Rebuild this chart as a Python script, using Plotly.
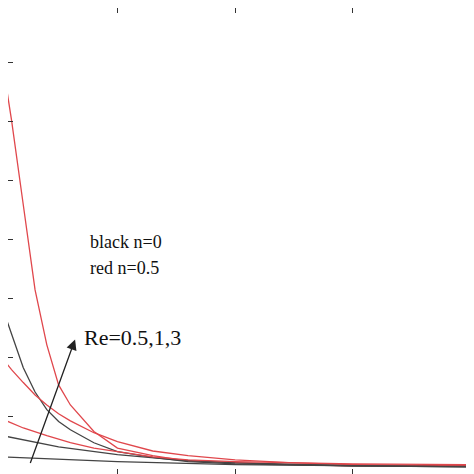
import plotly.graph_objects as go

x_red1 = [0,0.1,0.2,0.3,0.4,0.5,0.6,0.8,1.0,1.3,1.6,2,2.5,3,3.5,4]
y_red1 = [7.31,6.03,4.59,3.15,2.22,1.54,1.20,0.75,0.47,0.34,0.25,0.22,0.19,0.17,0.17,0.17]
x_blk1 = [0,0.1,0.2,0.3,0.4,0.5,0.6,0.8,1.0,1.3,1.6,2,2.5,3,3.5,4]
y_blk1 = [2.98,2.39,1.83,1.42,1.12,0.92,0.78,0.56,0.41,0.31,0.24,0.20,0.18,0.17,0.17,0.17]
x_red2 = [0,0.1,0.2,0.3,0.4,0.5,0.6,0.8,1.0,1.3,1.6,2,2.5,3,3.5,4]
y_red2 = [2.05,1.80,1.58,1.37,1.20,1.05,0.93,0.73,0.58,0.42,0.34,0.27,0.22,0.19,0.18,0.18]
x_blk2 = [0,0.5,1,1.5,2,3,4]
y_blk2 = [0.69,0.49,0.36,0.27,0.22,0.17,0.15]
x_red3 = [0,0.2,0.4,0.6,0.8,1,1.3,1.6,2,3,4]
y_red3 = [0.98,0.81,0.68,0.56,0.47,0.41,0.32,0.27,0.24,0.20,0.19]
x_blk3 = [0,1,2,3,4]
y_blk3 = [0.32,0.24,0.19,0.17,0.15]

RED = "#e0474c"
BLK = "#444444"
fig = go.Figure()
for xs, ys, c in [(x_red1,y_red1,RED),(x_blk1,y_blk1,BLK),(x_red2,y_red2,RED),
                  (x_blk2,y_blk2,BLK),(x_red3,y_red3,RED),(x_blk3,y_blk3,BLK)]:
    fig.add_trace(go.Scatter(x=xs, y=ys, mode="lines", line=dict(color=c, width=1.3), showlegend=False))

fig.add_annotation(x=0.64, y=2.31, ax=0.255, ay=0.19, xref="x", yref="y", axref="x", ayref="y",
                   showarrow=True, arrowhead=2, arrowsize=1.6, arrowwidth=1.3, arrowcolor="#222", text="")

def px(xp, yp):
    return (xp - 8) / 466, 1 - (yp - 8) / 466

tfont = dict(family="Liberation Serif", color="#111")
for (xp, yp, txt, sz) in [(88, 242, "black n=0", 18), (88, 268, "red n=0.5", 18), (82, 337, "Re=0.5,1,3", 22)]:
    xa, ya = px(xp, yp)
    fig.add_annotation(x=xa, y=ya, xref="paper", yref="paper", text=txt, showarrow=False,
                       xanchor="left", yanchor="middle", font=dict(size=sz, **tfont))

ax = dict(showgrid=False, zeroline=False, showline=True, linecolor="#333", mirror="ticks",
          ticks="inside", ticklen=5, tickcolor="#333", showticklabels=False)
fig.update_xaxes(range=[0.07, 4.03], dtick=1, **ax)
fig.update_yaxes(range=[0.03, 7.93], tickvals=[1,2,3,4,5,6,7], **ax)
fig.update_layout(width=466, height=466, margin=dict(l=0, r=0, t=0, b=0),
                  plot_bgcolor="white", paper_bgcolor="white")
fig.write_html("out.html")
